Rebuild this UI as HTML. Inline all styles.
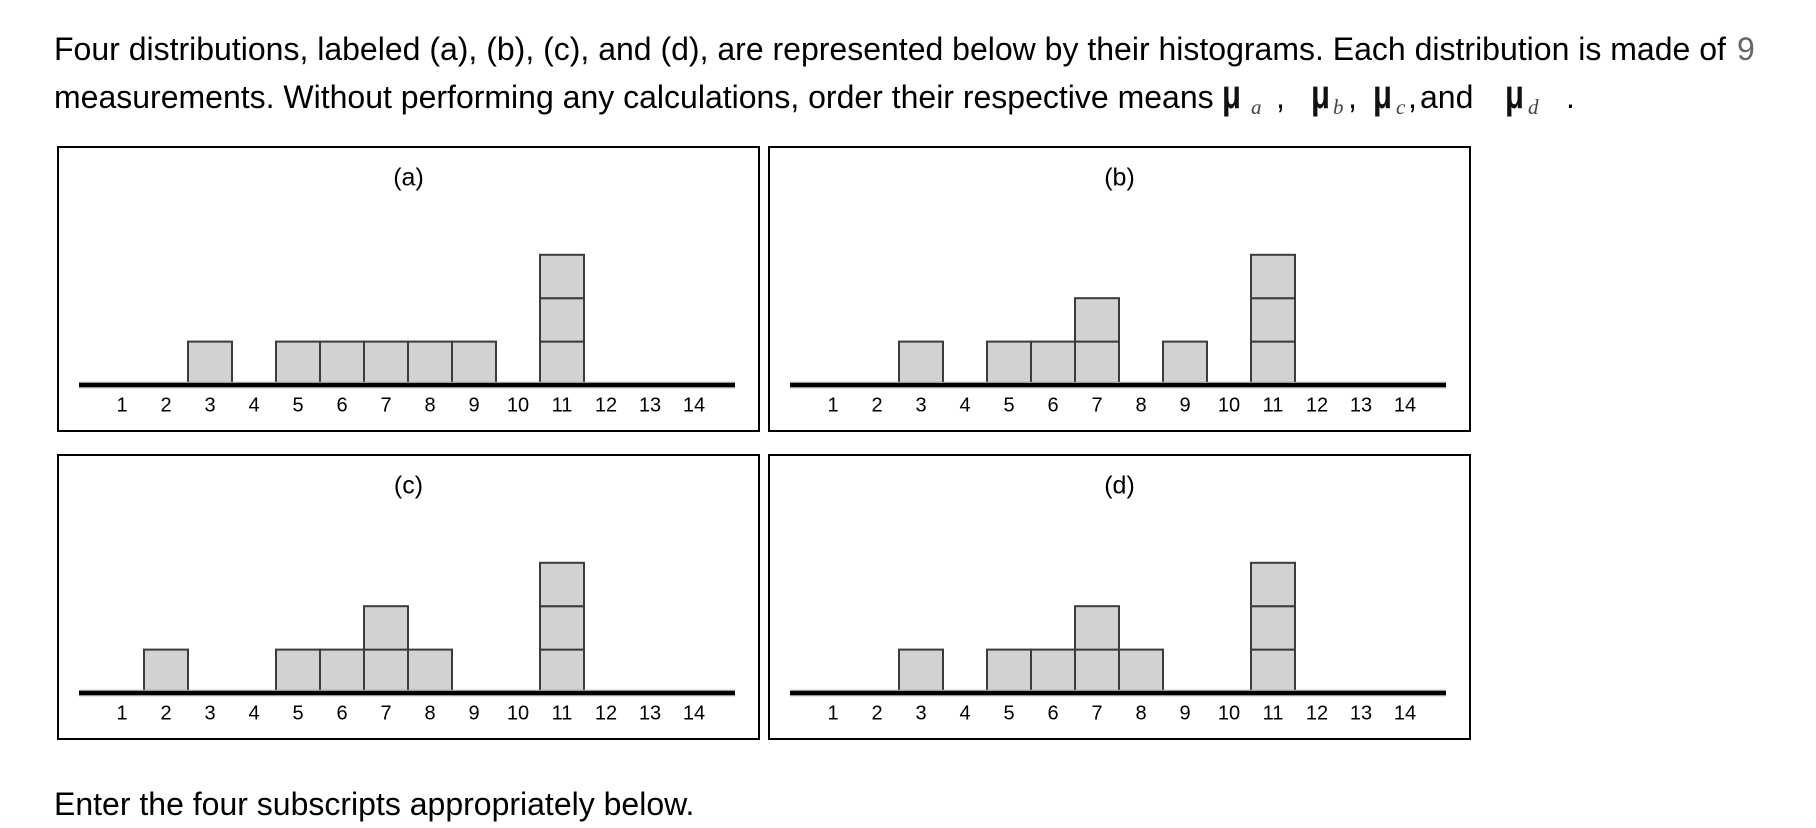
<!DOCTYPE html>
<html>
<head>
<meta charset="utf-8">
<style>
html,body{margin:0;padding:0;background:#fff;}
body{width:1816px;height:828px;overflow:hidden;}
svg{display:block;}
text{font-family:"Liberation Sans",Arial,sans-serif;}
</style>
</head>
<body>
<svg width="1816" height="828" viewBox="0 0 1816 828" xmlns="http://www.w3.org/2000/svg">
<rect x="0" y="0" width="1816" height="828" fill="#fff"/>

<!-- Question text -->
<text x="54" y="60" font-size="32" fill="#000">Four distributions, labeled (a), (b), (c), and (d), are represented below by their histograms. Each distribution is made of</text>
<text x="1737" y="60" font-size="32" fill="#666">9</text>
<text x="54" y="108" font-size="32" fill="#000">measurements. Without performing any calculations, order their respective means</text>

<text transform="translate(1222,108) scale(1.15,1.5)" font-size="27" font-weight="bold" fill="#111">μ</text>
<text x="1251" y="114" font-size="21" font-style="italic" fill="#444" style="font-family:'Liberation Serif',serif">a</text>
<text x="1276" y="108" font-size="32" fill="#000">,</text>

<text transform="translate(1311,108) scale(1.15,1.5)" font-size="27" font-weight="bold" fill="#111">μ</text>
<text x="1333" y="114" font-size="21" font-style="italic" fill="#444" style="font-family:'Liberation Serif',serif">b</text>
<text x="1348" y="108" font-size="32" fill="#000">,</text>

<text transform="translate(1373,108) scale(1.15,1.5)" font-size="27" font-weight="bold" fill="#111">μ</text>
<text x="1396" y="114" font-size="21" font-style="italic" fill="#444" style="font-family:'Liberation Serif',serif">c</text>
<text x="1408" y="108" font-size="32" fill="#000">,</text>
<text x="1420" y="108" font-size="32" fill="#000">and</text>

<text transform="translate(1505,108) scale(1.15,1.5)" font-size="27" font-weight="bold" fill="#111">μ</text>
<text x="1528" y="114" font-size="21" font-style="italic" fill="#444" style="font-family:'Liberation Serif',serif">d</text>
<text x="1566" y="108" font-size="32" fill="#000">.</text>

<!-- Chart (a) -->
<g transform="translate(57,146)">
  <rect x="1" y="1" width="701" height="284" fill="#fff" stroke="#000" stroke-width="2"/>
  <text x="351.5" y="39.5" font-size="25" text-anchor="middle">(a)</text>
  <g fill="#d2d2d2" stroke="#3c3c3c" stroke-width="2">
    <rect x="131" y="195.6" width="44" height="43.4"/>
    <rect x="219" y="195.6" width="44" height="43.4"/>
    <rect x="263" y="195.6" width="44" height="43.4"/>
    <rect x="307" y="195.6" width="44" height="43.4"/>
    <rect x="351" y="195.6" width="44" height="43.4"/>
    <rect x="395" y="195.6" width="44" height="43.4"/>
    <rect x="483" y="195.6" width="44" height="43.4"/>
    <rect x="483" y="152.2" width="44" height="43.4"/>
    <rect x="483" y="108.8" width="44" height="43.4"/>
  </g>
  <line x1="22" y1="239" x2="678" y2="239" stroke="#999" stroke-width="6.5"/>
  <line x1="22" y1="239" x2="678" y2="239" stroke="#000" stroke-width="4"/>
  <g font-size="20" text-anchor="middle" fill="#000">
    <text x="65" y="265.5">1</text><text x="109" y="265.5">2</text><text x="153" y="265.5">3</text><text x="197" y="265.5">4</text><text x="241" y="265.5">5</text><text x="285" y="265.5">6</text><text x="329" y="265.5">7</text><text x="373" y="265.5">8</text><text x="417" y="265.5">9</text><text x="461" y="265.5">10</text><text x="505" y="265.5">11</text><text x="549" y="265.5">12</text><text x="593" y="265.5">13</text><text x="637" y="265.5">14</text>
  </g>
</g>

<!-- Chart (b) -->
<g transform="translate(768,146)">
  <rect x="1" y="1" width="701" height="284" fill="#fff" stroke="#000" stroke-width="2"/>
  <text x="351.5" y="39.5" font-size="25" text-anchor="middle">(b)</text>
  <g fill="#d2d2d2" stroke="#3c3c3c" stroke-width="2">
    <rect x="131" y="195.6" width="44" height="43.4"/>
    <rect x="219" y="195.6" width="44" height="43.4"/>
    <rect x="263" y="195.6" width="44" height="43.4"/>
    <rect x="307" y="195.6" width="44" height="43.4"/>
    <rect x="307" y="152.2" width="44" height="43.4"/>
    <rect x="395" y="195.6" width="44" height="43.4"/>
    <rect x="483" y="195.6" width="44" height="43.4"/>
    <rect x="483" y="152.2" width="44" height="43.4"/>
    <rect x="483" y="108.8" width="44" height="43.4"/>
  </g>
  <line x1="22" y1="239" x2="678" y2="239" stroke="#999" stroke-width="6.5"/>
  <line x1="22" y1="239" x2="678" y2="239" stroke="#000" stroke-width="4"/>
  <g font-size="20" text-anchor="middle" fill="#000">
    <text x="65" y="265.5">1</text><text x="109" y="265.5">2</text><text x="153" y="265.5">3</text><text x="197" y="265.5">4</text><text x="241" y="265.5">5</text><text x="285" y="265.5">6</text><text x="329" y="265.5">7</text><text x="373" y="265.5">8</text><text x="417" y="265.5">9</text><text x="461" y="265.5">10</text><text x="505" y="265.5">11</text><text x="549" y="265.5">12</text><text x="593" y="265.5">13</text><text x="637" y="265.5">14</text>
  </g>
</g>

<!-- Chart (c) -->
<g transform="translate(57,454)">
  <rect x="1" y="1" width="701" height="284" fill="#fff" stroke="#000" stroke-width="2"/>
  <text x="351.5" y="39.5" font-size="25" text-anchor="middle">(c)</text>
  <g fill="#d2d2d2" stroke="#3c3c3c" stroke-width="2">
    <rect x="87" y="195.6" width="44" height="43.4"/>
    <rect x="219" y="195.6" width="44" height="43.4"/>
    <rect x="263" y="195.6" width="44" height="43.4"/>
    <rect x="307" y="195.6" width="44" height="43.4"/>
    <rect x="307" y="152.2" width="44" height="43.4"/>
    <rect x="351" y="195.6" width="44" height="43.4"/>
    <rect x="483" y="195.6" width="44" height="43.4"/>
    <rect x="483" y="152.2" width="44" height="43.4"/>
    <rect x="483" y="108.8" width="44" height="43.4"/>
  </g>
  <line x1="22" y1="239" x2="678" y2="239" stroke="#999" stroke-width="6.5"/>
  <line x1="22" y1="239" x2="678" y2="239" stroke="#000" stroke-width="4"/>
  <g font-size="20" text-anchor="middle" fill="#000">
    <text x="65" y="265.5">1</text><text x="109" y="265.5">2</text><text x="153" y="265.5">3</text><text x="197" y="265.5">4</text><text x="241" y="265.5">5</text><text x="285" y="265.5">6</text><text x="329" y="265.5">7</text><text x="373" y="265.5">8</text><text x="417" y="265.5">9</text><text x="461" y="265.5">10</text><text x="505" y="265.5">11</text><text x="549" y="265.5">12</text><text x="593" y="265.5">13</text><text x="637" y="265.5">14</text>
  </g>
</g>

<!-- Chart (d) -->
<g transform="translate(768,454)">
  <rect x="1" y="1" width="701" height="284" fill="#fff" stroke="#000" stroke-width="2"/>
  <text x="351.5" y="39.5" font-size="25" text-anchor="middle">(d)</text>
  <g fill="#d2d2d2" stroke="#3c3c3c" stroke-width="2">
    <rect x="131" y="195.6" width="44" height="43.4"/>
    <rect x="219" y="195.6" width="44" height="43.4"/>
    <rect x="263" y="195.6" width="44" height="43.4"/>
    <rect x="307" y="195.6" width="44" height="43.4"/>
    <rect x="307" y="152.2" width="44" height="43.4"/>
    <rect x="351" y="195.6" width="44" height="43.4"/>
    <rect x="483" y="195.6" width="44" height="43.4"/>
    <rect x="483" y="152.2" width="44" height="43.4"/>
    <rect x="483" y="108.8" width="44" height="43.4"/>
  </g>
  <line x1="22" y1="239" x2="678" y2="239" stroke="#999" stroke-width="6.5"/>
  <line x1="22" y1="239" x2="678" y2="239" stroke="#000" stroke-width="4"/>
  <g font-size="20" text-anchor="middle" fill="#000">
    <text x="65" y="265.5">1</text><text x="109" y="265.5">2</text><text x="153" y="265.5">3</text><text x="197" y="265.5">4</text><text x="241" y="265.5">5</text><text x="285" y="265.5">6</text><text x="329" y="265.5">7</text><text x="373" y="265.5">8</text><text x="417" y="265.5">9</text><text x="461" y="265.5">10</text><text x="505" y="265.5">11</text><text x="549" y="265.5">12</text><text x="593" y="265.5">13</text><text x="637" y="265.5">14</text>
  </g>
</g>

<text x="54" y="815" font-size="32" fill="#000">Enter the four subscripts appropriately below.</text>
</svg>
</body>
</html>
